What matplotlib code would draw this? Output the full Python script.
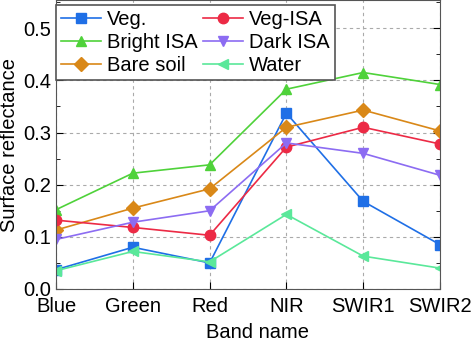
import numpy as np
import matplotlib
matplotlib.use('Agg')
import matplotlib.pyplot as plt
from matplotlib.ticker import MultipleLocator

plt.rcParams['font.family'] = ['Liberation Sans', 'DejaVu Sans']

bands = ['Blue', 'Green', 'Red', 'NIR', 'SWIR1', 'SWIR2']

veg = [0.037, 0.080, 0.050, 0.337, 0.168, 0.085]
veg_isa = [0.132, 0.118, 0.103, 0.272, 0.310, 0.278]
bright_isa = [0.152, 0.222, 0.238, 0.383, 0.415, 0.392]
dark_isa = [0.095, 0.128, 0.150, 0.280, 0.260, 0.218]
bare_soil = [0.113, 0.155, 0.192, 0.310, 0.343, 0.303]
water = [0.035, 0.072, 0.052, 0.143, 0.063, 0.040]

# order chosen so the 2-column legend reads like the original
series = [
    ('Veg.', veg, '#1f6fe6', 's'),
    ('Bright ISA', bright_isa, '#4fd23a', '^'),
    ('Bare soil', bare_soil, '#d98818', 'D'),
    ('Veg-ISA', veg_isa, '#ec2a45', 'o'),
    ('Dark ISA', dark_isa, '#8c6cf2', 'v'),
    ('Water', water, '#5ae89a', '<'),
]

fig = plt.figure(figsize=(4.74, 3.42), dpi=100)
ax = fig.add_axes([56/474, 53/342, 384/474, 289/342])

x = np.arange(len(bands))
for name, vals, col, mk in series:
    ax.plot(x, vals, color=col, marker=mk, markersize=7.5, linewidth=1.2, label=name)

ymax = 0.554
ax.set_xlim(0, 5)
ax.set_ylim(0, ymax)
ax.set_xticks(x)
ax.set_xticklabels(bands)
ax.yaxis.set_minor_locator(MultipleLocator(0.05))
ax.set_yticks([0.0, 0.1, 0.2, 0.3, 0.4, 0.5])
ax.set_yticklabels(['0.0', '0.1', '0.2', '0.3', '0.4', '0.5'])
ax.tick_params(axis='both', which='both', direction='in', labelsize=14.5, right=True)
ax.tick_params(axis='x', pad=6)
ax.tick_params(which='major', length=5)
ax.tick_params(which='minor', length=3)
ax.grid(True, which='major', linestyle=(0, (3, 3)), color='#aaaaaa', linewidth=0.8)
for sp in ax.spines.values():
    sp.set_color('#555555')

ax.set_xlabel('Band name', fontsize=14.5)
ax.xaxis.set_label_coords(0.525, -0.152)
ax.xaxis.label.set_verticalalignment('center')
ax.set_ylabel('Surface reflectance', fontsize=14.5, labelpad=3)

leg = ax.legend(ncol=2, loc='lower left', bbox_to_anchor=(0, 0.4 / ymax), fontsize=14.5,
                frameon=True, fancybox=False, edgecolor='#555555', framealpha=1,
                handlelength=2.0, columnspacing=0.25, handletextpad=0.3,
                labelspacing=0.2, borderpad=0.25, borderaxespad=0)
leg.get_frame().set_linewidth(1.2)

fig.savefig('out.png', dpi=100)
